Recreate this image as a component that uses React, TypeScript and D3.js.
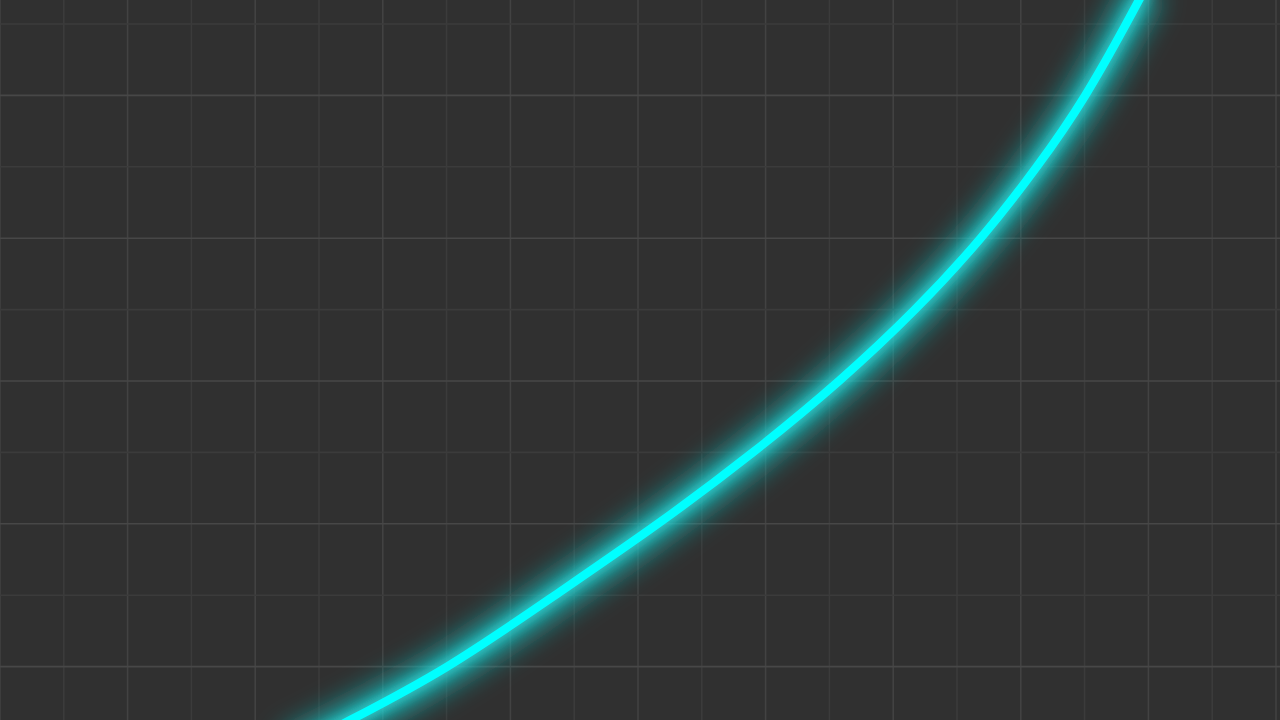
import * as d3 from 'd3'
import React from 'react'

// grid units
const xTicks = d3.range(0, 21)
const yTicks = d3.range(0, 11)

// curve, in grid units (where it crosses each horizontal grid line)
const curveX = [4.51, 5.49, 7.01, 8.7, 10.31, 11.8, 13.15, 14.34, 15.37, 16.25, 17.01, 17.65, 17.95]
const curveY = [-0.2, 0.25, 1, 2, 3, 4, 5, 6, 7, 8, 9, 10, 10.5]

const width = 1280
const height = 720

const App = () => {
  const x = d3.scaleLinear().domain([0, 20]).range([0, 1276])
  const y = d3.scaleLinear().domain([0, 10]).range([738, 24])

  const points = curveX.map((d, i) => [d, curveY[i]] as [number, number])
  const line = d3
    .line<[number, number]>()
    .x((d) => x(d[0]))
    .y((d) => y(d[1]))
    .curve(d3.curveNatural)
  const path = line(points) || ''

  return (
    <div style={{ position: 'fixed', left: 0, top: 0, width, height, background: '#303030' }}>
      <svg width={width} height={height} style={{ display: 'block' }}>
        <defs>
          <filter id='glow' x='-20%' y='-20%' width='140%' height='140%'>
            <feGaussianBlur stdDeviation='14' />
          </filter>
          <filter id='glowSoft' x='-20%' y='-20%' width='140%' height='140%'>
            <feGaussianBlur stdDeviation='6' />
          </filter>
        </defs>
        <rect width={width} height={height} fill='#303030' />
        {xTicks.map((t) => (
          <line
            key={`vx-${t}`}
            x1={x(t)}
            x2={x(t)}
            y1={0}
            y2={height}
            stroke={t % 2 === 0 ? '#424242' : '#3b3b3b'}
            strokeWidth={1.6}
          />
        ))}
        {yTicks.map((t) => (
          <line
            key={`hy-${t}`}
            x1={0}
            x2={width}
            y1={y(t)}
            y2={y(t)}
            stroke={t % 2 === 1 ? '#474747' : '#3b3b3b'}
            strokeWidth={1.6}
          />
        ))}
        <path d={path} fill='none' stroke='#15b8b8' strokeOpacity={0.85} strokeWidth={36} filter='url(#glow)' />
        <path d={path} fill='none' stroke='#30ffff' strokeOpacity={0.5} strokeWidth={16} filter='url(#glowSoft)' />
        <path d={path} fill='none' stroke='#00ffff' strokeWidth={8.5} strokeLinecap='round' />
      </svg>
    </div>
  )
}

export default App
